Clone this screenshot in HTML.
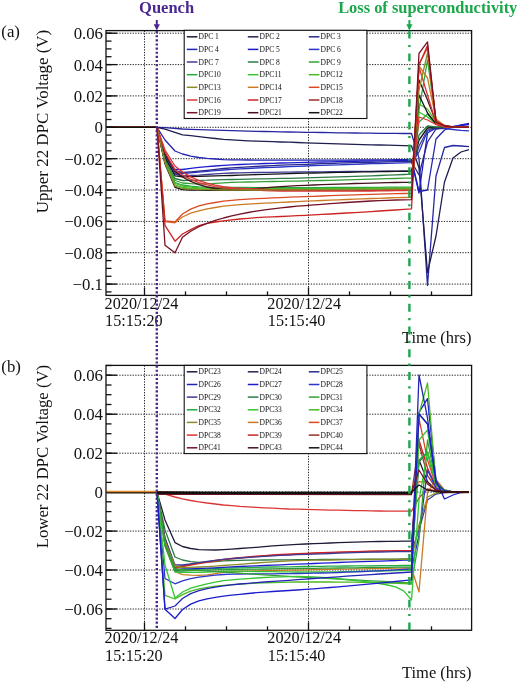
<!DOCTYPE html>
<html lang="en"><head><meta charset="utf-8"><title>DPC voltages during quench</title>
<style>html,body{margin:0;padding:0;background:#fff}body{width:520px;height:683px;overflow:hidden}svg{display:block}text{font-family:"Liberation Serif", "DejaVu Serif", serif;fill:#111}.t16{font-size:16.5px}.ty{font-size:16.8px}.tx{font-size:16.2px}.t7{font-size:7.55px}.grid{stroke:#222;stroke-width:1;stroke-dasharray:1.3 1.36;fill:none}.tk{stroke:#111;stroke-width:1.3}</style></head><body>
<svg width="520" height="683" viewBox="0 0 520 683">
<defs><clipPath id="c1"><rect x="106.0" y="30.6" width="365.6" height="264.8"/></clipPath><clipPath id="c2"><rect x="106.0" y="365.4" width="365.6" height="264.9"/></clipPath></defs>
<rect width="520" height="683" fill="#fff"/>
<line x1="106.0" y1="33.2" x2="471.6" y2="33.2" class="grid"/>
<line x1="106.0" y1="64.6" x2="471.6" y2="64.6" class="grid"/>
<line x1="106.0" y1="95.9" x2="471.6" y2="95.9" class="grid"/>
<line x1="106.0" y1="127.3" x2="471.6" y2="127.3" class="grid"/>
<line x1="106.0" y1="158.7" x2="471.6" y2="158.7" class="grid"/>
<line x1="106.0" y1="190.0" x2="471.6" y2="190.0" class="grid"/>
<line x1="106.0" y1="221.4" x2="471.6" y2="221.4" class="grid"/>
<line x1="106.0" y1="252.7" x2="471.6" y2="252.7" class="grid"/>
<line x1="106.0" y1="284.1" x2="471.6" y2="284.1" class="grid"/>
<line x1="144.5" y1="30.6" x2="144.5" y2="295.4" class="grid"/>
<line x1="308.5" y1="30.6" x2="308.5" y2="295.4" class="grid"/>
<g clip-path="url(#c1)">
<path d="M106.0 127.3 L157.0 127.3 L165.0 127.6 L182.5 129.0 L190.7 129.3 L198.9 129.6 L207.1 129.9 L215.3 130.1 L223.5 130.4 L231.7 130.6 L239.9 130.9 L248.1 131.1 L256.3 131.3 L264.5 131.5 L272.7 131.7 L280.9 131.9 L289.1 132.0 L297.3 132.2 L305.5 132.3 L313.7 132.4 L321.9 132.5 L330.1 132.7 L338.3 132.8 L346.5 132.9 L354.7 133.0 L362.9 133.1 L371.1 133.2 L379.3 133.3 L387.5 133.3 L395.7 133.4 L403.9 133.5 L411.5 133.5 L419.0 158.0 L427.5 285.5 L436.0 176.0 L444.5 147.5 L453.0 145.5 L461.0 146.0 L469.0 146.7" fill="none" stroke="#2626a0" stroke-width="1.30" stroke-linejoin="round" />
<path d="M106.0 127.3 L157.0 127.3 L165.0 129.2 L182.5 134.9 L190.7 135.7 L198.9 136.7 L207.1 137.6 L215.3 138.5 L223.5 139.3 L231.7 139.9 L239.9 140.4 L248.1 140.8 L256.3 141.1 L264.5 141.4 L272.7 141.7 L280.9 142.0 L289.1 142.2 L297.3 142.5 L305.5 142.8 L313.7 143.1 L321.9 143.3 L330.1 143.6 L338.3 143.8 L346.5 144.1 L354.7 144.3 L362.9 144.6 L371.1 144.8 L379.3 145.0 L387.5 145.2 L395.7 145.4 L403.9 145.6 L411.5 145.8 L419.0 168.0 L427.5 272.5 L436.0 236.0 L444.5 182.0 L453.0 158.0 L461.0 152.0 L469.0 149.7" fill="none" stroke="#1e1e50" stroke-width="1.30" stroke-linejoin="round" />
<path d="M106.0 127.3 L157.0 127.3 L165.0 140.0 L175.0 151.0 L182.5 154.0 L190.7 156.1 L198.9 157.5 L207.1 158.4 L215.3 159.0 L223.5 159.6 L231.7 159.8 L239.9 159.9 L248.1 160.0 L256.3 160.1 L264.5 160.1 L272.7 160.1 L280.9 160.2 L289.1 160.2 L297.3 160.2 L305.5 160.2 L313.7 160.2 L321.9 160.2 L330.1 160.2 L338.3 160.1 L346.5 160.1 L354.7 160.0 L362.9 160.0 L371.1 159.9 L379.3 159.9 L387.5 159.8 L395.7 159.7 L403.9 159.6 L411.5 159.5 L419.0 191.5 L427.5 190.0 L436.0 139.0 L444.5 130.0 L453.0 127.0 L461.0 125.0 L469.0 123.5" fill="none" stroke="#2424b4" stroke-width="1.30" stroke-linejoin="round" />
<path d="M106.0 127.3 L157.0 127.3 L165.0 154.0 L175.0 169.5 L182.5 169.5 L190.7 168.4 L198.9 167.4 L207.1 166.6 L215.3 166.0 L223.5 165.4 L231.7 164.9 L239.9 164.5 L248.1 164.2 L256.3 163.8 L264.5 163.5 L272.7 163.3 L280.9 163.0 L289.1 162.8 L297.3 162.6 L305.5 162.4 L313.7 162.2 L321.9 162.0 L330.1 161.8 L338.3 161.6 L346.5 161.5 L354.7 161.3 L362.9 161.2 L371.1 161.0 L379.3 160.9 L387.5 160.8 L395.7 160.7 L403.9 160.7 L411.5 160.6 L419.0 193.0 L427.5 133.0 L436.0 128.0 L444.5 127.0 L453.0 126.5 L461.0 125.5 L469.0 124.5" fill="none" stroke="#1c1ccc" stroke-width="1.30" stroke-linejoin="round" />
<path d="M106.0 127.3 L157.0 127.3 L165.0 156.0 L175.0 173.0 L182.5 173.5 L190.7 172.8 L198.9 172.1 L207.1 171.4 L215.3 170.6 L223.5 170.0 L231.7 169.4 L239.9 168.9 L248.1 168.5 L256.3 168.0 L264.5 167.7 L272.7 167.3 L280.9 167.0 L289.1 166.6 L297.3 166.3 L305.5 166.0 L313.7 165.7 L321.9 165.4 L330.1 165.1 L338.3 164.8 L346.5 164.5 L354.7 164.3 L362.9 164.0 L371.1 163.7 L379.3 163.5 L387.5 163.3 L395.7 163.1 L403.9 162.9 L411.5 162.7 L419.0 152.0 L427.5 131.0 L436.0 128.5 L444.5 128.5 L453.0 129.5 L461.0 130.3 L469.0 130.8" fill="none" stroke="#2a36c8" stroke-width="1.30" stroke-linejoin="round" />
<path d="M106.0 127.3 L157.0 127.3 L165.0 155.0 L175.0 171.0 L182.5 172.5 L190.7 171.8 L198.9 171.1 L207.1 170.3 L215.3 169.4 L223.5 168.5 L231.7 167.9 L239.9 167.3 L248.1 166.8 L256.3 166.4 L264.5 166.0 L272.7 165.6 L280.9 165.2 L289.1 164.9 L297.3 164.6 L305.5 164.3 L313.7 164.0 L321.9 163.7 L330.1 163.5 L338.3 163.2 L346.5 162.9 L354.7 162.7 L362.9 162.5 L371.1 162.3 L379.3 162.1 L387.5 161.9 L395.7 161.7 L403.9 161.6 L411.5 161.5 L419.0 175.0 L427.5 142.0 L436.0 129.0 L444.5 127.5 L453.0 127.0 L461.0 127.0 L469.0 127.0" fill="none" stroke="#2a2a8c" stroke-width="1.30" stroke-linejoin="round" />
<path d="M106.0 127.3 L157.0 127.3 L165.0 157.0 L175.0 174.0 L182.5 176.0 L190.7 175.5 L198.9 175.1 L207.1 174.5 L215.3 173.8 L223.5 173.3 L231.7 173.0 L239.9 172.8 L248.1 172.6 L256.3 172.5 L264.5 172.4 L272.7 172.3 L280.9 172.2 L289.1 172.1 L297.3 172.0 L305.5 171.9 L313.7 171.8 L321.9 171.8 L330.1 171.7 L338.3 171.6 L346.5 171.5 L354.7 171.4 L362.9 171.4 L371.1 171.3 L379.3 171.2 L387.5 171.2 L395.7 171.1 L403.9 171.0 L411.5 171.0 L419.0 146.0 L427.5 130.0 L436.0 127.5 L444.5 127.2 L453.0 127.2 L461.0 127.2 L469.0 127.2" fill="none" stroke="#3c3c96" stroke-width="1.30" stroke-linejoin="round" />
<path d="M106.0 127.3 L157.0 127.3 L165.0 158.0 L175.0 175.8 L182.5 176.8 L190.7 176.6 L198.9 176.3 L207.1 176.1 L215.3 175.9 L223.5 175.7 L231.7 175.5 L239.9 175.2 L248.1 174.9 L256.3 174.7 L264.5 174.4 L272.7 174.1 L280.9 173.8 L289.1 173.6 L297.3 173.4 L305.5 173.2 L313.7 173.0 L321.9 172.8 L330.1 172.6 L338.3 172.4 L346.5 172.3 L354.7 172.1 L362.9 171.9 L371.1 171.8 L379.3 171.6 L387.5 171.5 L395.7 171.4 L403.9 171.3 L411.5 171.2 L419.0 140.0 L427.5 128.0 L436.0 127.5 L444.5 127.2 L453.0 127.2 L461.0 127.2 L469.0 127.2" fill="none" stroke="#141414" stroke-width="1.30" stroke-linejoin="round" />
<path d="M106.0 127.3 L157.0 127.3 L165.0 160.0 L175.0 178.5 L182.5 180.5 L190.7 180.4 L198.9 180.3 L207.1 180.2 L215.3 179.9 L223.5 179.7 L231.7 179.5 L239.9 179.3 L248.1 179.1 L256.3 178.9 L264.5 178.8 L272.7 178.6 L280.9 178.4 L289.1 178.3 L297.3 178.1 L305.5 177.9 L313.7 177.6 L321.9 177.4 L330.1 177.2 L338.3 176.9 L346.5 176.6 L354.7 176.4 L362.9 176.1 L371.1 175.8 L379.3 175.5 L387.5 175.2 L395.7 174.8 L403.9 174.5 L411.5 174.2 L419.0 135.0 L427.5 126.0 L436.0 127.0 L444.5 127.2 L453.0 127.2 L461.0 127.2 L469.0 127.2" fill="none" stroke="#2c7a46" stroke-width="1.30" stroke-linejoin="round" />
<path d="M106.0 127.3 L157.0 127.3 L165.0 161.0 L175.0 180.5 L182.5 183.0 L190.7 183.7 L198.9 184.0 L207.1 183.8 L215.3 183.3 L223.5 182.8 L231.7 182.4 L239.9 182.2 L248.1 182.0 L256.3 181.8 L264.5 181.7 L272.7 181.5 L280.9 181.4 L289.1 181.2 L297.3 181.1 L305.5 180.9 L313.7 180.7 L321.9 180.5 L330.1 180.3 L338.3 180.1 L346.5 179.8 L354.7 179.6 L362.9 179.4 L371.1 179.2 L379.3 178.9 L387.5 178.7 L395.7 178.5 L403.9 178.2 L411.5 178.0 L419.0 122.0 L427.5 114.0 L436.0 124.0 L444.5 127.0 L453.0 127.2 L461.0 127.2 L469.0 127.2" fill="none" stroke="#34a034" stroke-width="1.30" stroke-linejoin="round" />
<path d="M106.0 127.3 L157.0 127.3 L165.0 162.0 L175.0 182.7 L182.5 185.0 L190.7 186.2 L198.9 187.0 L207.1 187.2 L215.3 187.4 L223.5 187.5 L231.7 187.5 L239.9 187.5 L248.1 187.5 L256.3 187.6 L264.5 187.6 L272.7 187.6 L280.9 187.6 L289.1 187.6 L297.3 187.6 L305.5 187.6 L313.7 187.6 L321.9 187.6 L330.1 187.5 L338.3 187.5 L346.5 187.5 L354.7 187.4 L362.9 187.4 L371.1 187.3 L379.3 187.3 L387.5 187.2 L395.7 187.1 L403.9 187.1 L411.5 187.0 L419.0 110.0 L427.5 60.0 L436.0 121.0 L444.5 126.5 L453.0 127.2 L461.0 127.2 L469.0 127.2" fill="none" stroke="#22aa44" stroke-width="1.30" stroke-linejoin="round" />
<path d="M106.0 127.3 L157.0 127.3 L165.0 163.0 L175.0 185.0 L182.5 187.4 L190.7 188.3 L198.9 189.0 L207.1 189.2 L215.3 189.4 L223.5 189.6 L231.7 189.6 L239.9 189.6 L248.1 189.6 L256.3 189.6 L264.5 189.5 L272.7 189.5 L280.9 189.5 L289.1 189.4 L297.3 189.4 L305.5 189.4 L313.7 189.3 L321.9 189.3 L330.1 189.2 L338.3 189.2 L346.5 189.1 L354.7 189.1 L362.9 189.0 L371.1 188.9 L379.3 188.8 L387.5 188.8 L395.7 188.7 L403.9 188.6 L411.5 188.5 L419.0 112.0 L427.5 117.0 L436.0 124.0 L444.5 126.5 L453.0 127.2 L461.0 127.2 L469.0 127.2" fill="none" stroke="#34c634" stroke-width="1.30" stroke-linejoin="round" />
<path d="M106.0 127.3 L157.0 127.3 L165.0 162.0 L175.0 183.5 L182.5 186.0 L190.7 187.2 L198.9 188.0 L207.1 188.2 L215.3 188.4 L223.5 188.6 L231.7 188.6 L239.9 188.6 L248.1 188.6 L256.3 188.6 L264.5 188.6 L272.7 188.6 L280.9 188.6 L289.1 188.6 L297.3 188.6 L305.5 188.6 L313.7 188.6 L321.9 188.6 L330.1 188.5 L338.3 188.5 L346.5 188.4 L354.7 188.4 L362.9 188.3 L371.1 188.2 L379.3 188.2 L387.5 188.1 L395.7 188.0 L403.9 187.9 L411.5 187.8 L419.0 104.0 L427.5 109.0 L436.0 122.0 L444.5 126.5 L453.0 127.2 L461.0 127.2 L469.0 127.2" fill="none" stroke="#4cb824" stroke-width="1.30" stroke-linejoin="round" />
<path d="M106.0 127.3 L157.0 127.3 L165.0 164.0 L175.0 187.3 L182.5 189.7 L190.7 190.0 L198.9 190.2 L207.1 190.3 L215.3 190.3 L223.5 190.4 L231.7 190.4 L239.9 190.4 L248.1 190.4 L256.3 190.4 L264.5 190.3 L272.7 190.3 L280.9 190.3 L289.1 190.2 L297.3 190.2 L305.5 190.2 L313.7 190.2 L321.9 190.1 L330.1 190.1 L338.3 190.1 L346.5 190.0 L354.7 190.0 L362.9 190.0 L371.1 190.0 L379.3 189.9 L387.5 189.9 L395.7 189.9 L403.9 189.8 L411.5 189.8 L419.0 95.0 L427.5 113.0 L436.0 124.0 L444.5 126.8 L453.0 127.2 L461.0 127.2 L469.0 127.2" fill="none" stroke="#141414" stroke-width="1.30" stroke-linejoin="round" />
<path d="M106.0 127.3 L157.0 127.3 L165.0 154.0 L175.0 171.5 L182.5 177.0 L190.7 181.3 L198.9 184.7 L207.1 187.0 L215.3 188.5 L223.5 189.3 L231.7 189.5 L239.9 189.3 L248.1 189.0 L256.3 188.5 L264.5 187.9 L272.7 187.2 L280.9 186.6 L289.1 186.1 L297.3 185.6 L305.5 185.3 L313.7 185.0 L321.9 184.7 L330.1 184.4 L338.3 184.1 L346.5 183.8 L354.7 183.5 L362.9 183.3 L371.1 183.1 L379.3 182.9 L387.5 182.7 L395.7 182.5 L403.9 182.4 L411.5 182.3 L419.0 80.0 L427.5 100.0 L436.0 122.0 L444.5 126.5 L453.0 127.2 L461.0 127.2 L469.0 127.2" fill="none" stroke="#44121e" stroke-width="1.30" stroke-linejoin="round" />
<path d="M106.0 127.3 L157.0 127.3 L165.0 152.0 L175.0 170.0 L182.5 175.0 L190.7 179.3 L198.9 182.7 L207.1 184.9 L215.3 186.6 L223.5 187.9 L231.7 188.7 L239.9 189.2 L248.1 189.7 L256.3 190.1 L264.5 190.5 L272.7 190.8 L280.9 191.0 L289.1 191.1 L297.3 191.2 L305.5 191.2 L313.7 191.2 L321.9 191.2 L330.1 191.2 L338.3 191.2 L346.5 191.1 L354.7 191.1 L362.9 191.1 L371.1 191.0 L379.3 190.9 L387.5 190.8 L395.7 190.7 L403.9 190.6 L411.5 190.4 L419.0 67.0 L427.5 95.0 L436.0 123.0 L444.5 126.8 L453.0 127.2 L461.0 127.2 L469.0 127.2" fill="none" stroke="#dc3434" stroke-width="1.30" stroke-linejoin="round" />
<path d="M106.0 127.3 L157.0 127.3 L165.0 150.0 L175.0 166.0 L182.5 172.0 L190.7 176.9 L198.9 180.6 L207.1 183.2 L215.3 185.1 L223.5 186.7 L231.7 187.6 L239.9 188.1 L248.1 188.6 L256.3 189.0 L264.5 189.3 L272.7 189.6 L280.9 189.8 L289.1 189.9 L297.3 190.0 L305.5 190.0 L313.7 190.0 L321.9 190.0 L330.1 190.0 L338.3 190.0 L346.5 190.0 L354.7 190.0 L362.9 189.9 L371.1 189.9 L379.3 189.9 L387.5 189.8 L395.7 189.7 L403.9 189.7 L411.5 189.6 L419.0 117.0 L427.5 120.0 L436.0 124.5 L444.5 126.8 L453.0 127.2 L461.0 127.2 L469.0 127.2" fill="none" stroke="#dc3434" stroke-width="1.30" stroke-linejoin="round" />
<path d="M106.0 127.3 L157.0 127.3 L165.0 163.0 L175.0 186.0 L182.5 188.5 L190.7 189.1 L198.9 189.5 L207.1 189.7 L215.3 189.9 L223.5 190.0 L231.7 190.0 L239.9 190.0 L248.1 190.0 L256.3 190.0 L264.5 189.9 L272.7 189.9 L280.9 189.9 L289.1 189.8 L297.3 189.8 L305.5 189.8 L313.7 189.7 L321.9 189.7 L330.1 189.7 L338.3 189.6 L346.5 189.5 L354.7 189.5 L362.9 189.4 L371.1 189.4 L379.3 189.3 L387.5 189.2 L395.7 189.2 L403.9 189.1 L411.5 189.0 L419.0 90.0 L427.5 53.0 L436.0 121.0 L444.5 126.0 L453.0 127.0 L461.0 127.2 L469.0 127.2" fill="none" stroke="#8a8a28" stroke-width="1.30" stroke-linejoin="round" />
<path d="M106.0 127.3 L157.0 127.3 L165.0 221.5 L175.0 222.8 L182.5 217.0 L190.7 213.1 L198.9 210.8 L207.1 208.9 L215.3 207.5 L223.5 206.2 L231.7 205.4 L239.9 204.7 L248.1 204.1 L256.3 203.6 L264.5 203.2 L272.7 202.8 L280.9 202.4 L289.1 202.0 L297.3 201.6 L305.5 201.2 L313.7 200.9 L321.9 200.5 L330.1 200.2 L338.3 199.8 L346.5 199.5 L354.7 199.2 L362.9 198.8 L371.1 198.5 L379.3 198.3 L387.5 198.0 L395.7 197.7 L403.9 197.5 L411.5 197.3 L419.0 66.0 L427.5 78.0 L436.0 119.0 L444.5 125.5 L453.0 127.0 L461.0 127.2 L469.0 127.2" fill="none" stroke="#cc7a22" stroke-width="1.30" stroke-linejoin="round" />
<path d="M106.0 127.3 L157.0 127.3 L165.0 221.0 L175.0 222.0 L182.5 214.0 L190.7 209.1 L198.9 205.8 L207.1 203.9 L215.3 202.5 L223.5 201.2 L231.7 200.4 L239.9 199.7 L248.1 199.2 L256.3 198.7 L264.5 198.3 L272.7 197.9 L280.9 197.6 L289.1 197.2 L297.3 196.9 L305.5 196.6 L313.7 196.3 L321.9 196.0 L330.1 195.7 L338.3 195.4 L346.5 195.1 L354.7 194.8 L362.9 194.6 L371.1 194.3 L379.3 194.1 L387.5 193.9 L395.7 193.7 L403.9 193.5 L411.5 193.4 L419.0 64.0 L427.5 48.0 L436.0 122.5 L444.5 126.0 L453.0 127.0 L461.0 127.2 L469.0 127.2" fill="none" stroke="#dc4a22" stroke-width="1.30" stroke-linejoin="round" />
<path d="M106.0 127.3 L157.0 127.3 L165.0 225.4 L175.0 241.2 L182.5 234.0 L190.7 229.7 L198.9 225.6 L207.1 223.4 L215.3 222.0 L223.5 220.8 L231.7 219.8 L239.9 219.0 L248.1 218.3 L256.3 217.7 L264.5 217.2 L272.7 216.8 L280.9 216.5 L289.1 216.1 L297.3 215.7 L305.5 215.3 L313.7 214.9 L321.9 214.4 L330.1 214.0 L338.3 213.5 L346.5 213.0 L354.7 212.6 L362.9 212.1 L371.1 211.6 L379.3 211.0 L387.5 210.5 L395.7 210.0 L403.9 209.4 L411.5 208.9 L419.0 65.0 L427.5 45.5 L436.0 121.0 L444.5 125.5 L453.0 127.0 L461.0 127.2 L469.0 127.2" fill="none" stroke="#cc2424" stroke-width="1.30" stroke-linejoin="round" />
<path d="M106.0 127.3 L157.0 127.3 L165.0 245.2 L175.0 252.8 L182.5 237.3 L190.7 231.2 L198.9 226.7 L207.1 223.3 L215.3 220.4 L223.5 218.0 L231.7 215.9 L239.9 214.1 L248.1 212.5 L256.3 211.1 L264.5 209.9 L272.7 208.8 L280.9 207.8 L289.1 207.0 L297.3 206.2 L305.5 205.6 L313.7 204.9 L321.9 204.3 L330.1 203.7 L338.3 203.1 L346.5 202.5 L354.7 202.0 L362.9 201.5 L371.1 201.0 L379.3 200.6 L387.5 200.3 L395.7 200.0 L403.9 199.8 L411.5 199.6 L419.0 53.3 L427.5 41.9 L436.0 122.0 L444.5 126.0 L453.0 127.0 L461.0 127.2 L469.0 127.2" fill="none" stroke="#741226" stroke-width="1.30" stroke-linejoin="round" />
</g>
<line x1="106" y1="127.3" x2="157" y2="127.3" stroke="#111" stroke-width="1.5"/>
<rect x="106.0" y="30.6" width="365.6" height="264.8" fill="none" stroke="#111" stroke-width="1.3"/>
<line x1="106.0" y1="33.2" x2="117.0" y2="33.2" class="tk"/>
<line x1="106.0" y1="64.6" x2="117.0" y2="64.6" class="tk"/>
<line x1="106.0" y1="95.9" x2="117.0" y2="95.9" class="tk"/>
<line x1="106.0" y1="127.3" x2="117.0" y2="127.3" class="tk"/>
<line x1="106.0" y1="158.7" x2="117.0" y2="158.7" class="tk"/>
<line x1="106.0" y1="190.0" x2="117.0" y2="190.0" class="tk"/>
<line x1="106.0" y1="221.4" x2="117.0" y2="221.4" class="tk"/>
<line x1="106.0" y1="252.7" x2="117.0" y2="252.7" class="tk"/>
<line x1="106.0" y1="284.1" x2="117.0" y2="284.1" class="tk"/>
<line x1="106.0" y1="291.9" x2="111.5" y2="291.9" class="tk"/>
<line x1="106.0" y1="284.1" x2="111.5" y2="284.1" class="tk"/>
<line x1="106.0" y1="276.3" x2="111.5" y2="276.3" class="tk"/>
<line x1="106.0" y1="268.4" x2="111.5" y2="268.4" class="tk"/>
<line x1="106.0" y1="260.6" x2="111.5" y2="260.6" class="tk"/>
<line x1="106.0" y1="252.7" x2="111.5" y2="252.7" class="tk"/>
<line x1="106.0" y1="244.9" x2="111.5" y2="244.9" class="tk"/>
<line x1="106.0" y1="237.1" x2="111.5" y2="237.1" class="tk"/>
<line x1="106.0" y1="229.2" x2="111.5" y2="229.2" class="tk"/>
<line x1="106.0" y1="221.4" x2="111.5" y2="221.4" class="tk"/>
<line x1="106.0" y1="213.5" x2="111.5" y2="213.5" class="tk"/>
<line x1="106.0" y1="205.7" x2="111.5" y2="205.7" class="tk"/>
<line x1="106.0" y1="197.9" x2="111.5" y2="197.9" class="tk"/>
<line x1="106.0" y1="190.0" x2="111.5" y2="190.0" class="tk"/>
<line x1="106.0" y1="182.2" x2="111.5" y2="182.2" class="tk"/>
<line x1="106.0" y1="174.3" x2="111.5" y2="174.3" class="tk"/>
<line x1="106.0" y1="166.5" x2="111.5" y2="166.5" class="tk"/>
<line x1="106.0" y1="158.7" x2="111.5" y2="158.7" class="tk"/>
<line x1="106.0" y1="150.8" x2="111.5" y2="150.8" class="tk"/>
<line x1="106.0" y1="143.0" x2="111.5" y2="143.0" class="tk"/>
<line x1="106.0" y1="135.1" x2="111.5" y2="135.1" class="tk"/>
<line x1="106.0" y1="127.3" x2="111.5" y2="127.3" class="tk"/>
<line x1="106.0" y1="119.5" x2="111.5" y2="119.5" class="tk"/>
<line x1="106.0" y1="111.6" x2="111.5" y2="111.6" class="tk"/>
<line x1="106.0" y1="103.8" x2="111.5" y2="103.8" class="tk"/>
<line x1="106.0" y1="95.9" x2="111.5" y2="95.9" class="tk"/>
<line x1="106.0" y1="88.1" x2="111.5" y2="88.1" class="tk"/>
<line x1="106.0" y1="80.3" x2="111.5" y2="80.3" class="tk"/>
<line x1="106.0" y1="72.4" x2="111.5" y2="72.4" class="tk"/>
<line x1="106.0" y1="64.6" x2="111.5" y2="64.6" class="tk"/>
<line x1="106.0" y1="56.7" x2="111.5" y2="56.7" class="tk"/>
<line x1="106.0" y1="48.9" x2="111.5" y2="48.9" class="tk"/>
<line x1="106.0" y1="41.1" x2="111.5" y2="41.1" class="tk"/>
<line x1="106.0" y1="33.2" x2="111.5" y2="33.2" class="tk"/>
<line x1="144.5" y1="295.4" x2="144.5" y2="287.4" class="tk"/>
<line x1="308.5" y1="295.4" x2="308.5" y2="287.4" class="tk"/>
<line x1="185.5" y1="295.4" x2="185.5" y2="291.4" class="tk"/>
<line x1="226.5" y1="295.4" x2="226.5" y2="291.4" class="tk"/>
<line x1="267.5" y1="295.4" x2="267.5" y2="291.4" class="tk"/>
<line x1="349.5" y1="295.4" x2="349.5" y2="291.4" class="tk"/>
<line x1="390.5" y1="295.4" x2="390.5" y2="291.4" class="tk"/>
<line x1="431.5" y1="295.4" x2="431.5" y2="291.4" class="tk"/>
<text x="103" y="39.1" text-anchor="end" class="ty">0.06</text>
<text x="103" y="70.5" text-anchor="end" class="ty">0.04</text>
<text x="103" y="101.8" text-anchor="end" class="ty">0.02</text>
<text x="103" y="133.2" text-anchor="end" class="ty">0</text>
<text x="103" y="164.6" text-anchor="end" class="ty">−0.02</text>
<text x="103" y="195.9" text-anchor="end" class="ty">−0.04</text>
<text x="103" y="227.3" text-anchor="end" class="ty">−0.06</text>
<text x="103" y="258.6" text-anchor="end" class="ty">−0.08</text>
<text x="103" y="290.0" text-anchor="end" class="ty">−0.1</text>
<rect x="184.2" y="30.3" width="182.7" height="88.2" fill="#fff" stroke="#111" stroke-width="1.1"/>
<line x1="186.8" y1="36.8" x2="197.4" y2="36.8" stroke="#1c1c38" stroke-width="1.5"/>
<text x="198.5" y="39.2" class="t7">DPC 1</text>
<line x1="247.8" y1="36.8" x2="258.4" y2="36.8" stroke="#26264f" stroke-width="1.5"/>
<text x="259.5" y="39.2" class="t7">DPC 2</text>
<line x1="308.8" y1="36.8" x2="319.4" y2="36.8" stroke="#2a2a8c" stroke-width="1.5"/>
<text x="320.5" y="39.2" class="t7">DPC 3</text>
<line x1="186.8" y1="49.4" x2="197.4" y2="49.4" stroke="#2424b4" stroke-width="1.5"/>
<text x="198.5" y="51.9" class="t7">DPC 4</text>
<line x1="247.8" y1="49.4" x2="258.4" y2="49.4" stroke="#1c1ccc" stroke-width="1.5"/>
<text x="259.5" y="51.9" class="t7">DPC 5</text>
<line x1="308.8" y1="49.4" x2="319.4" y2="49.4" stroke="#2a36c8" stroke-width="1.5"/>
<text x="320.5" y="51.9" class="t7">DPC 6</text>
<line x1="186.8" y1="62.0" x2="197.4" y2="62.0" stroke="#3c3c96" stroke-width="1.5"/>
<text x="198.5" y="64.5" class="t7">DPC 7</text>
<line x1="247.8" y1="62.0" x2="258.4" y2="62.0" stroke="#2c7a46" stroke-width="1.5"/>
<text x="259.5" y="64.5" class="t7">DPC 8</text>
<line x1="308.8" y1="62.0" x2="319.4" y2="62.0" stroke="#34a034" stroke-width="1.5"/>
<text x="320.5" y="64.5" class="t7">DPC 9</text>
<line x1="186.8" y1="74.7" x2="197.4" y2="74.7" stroke="#22aa44" stroke-width="1.5"/>
<text x="198.5" y="77.2" class="t7">DPC10</text>
<line x1="247.8" y1="74.7" x2="258.4" y2="74.7" stroke="#34c634" stroke-width="1.5"/>
<text x="259.5" y="77.2" class="t7">DPC11</text>
<line x1="308.8" y1="74.7" x2="319.4" y2="74.7" stroke="#4cb824" stroke-width="1.5"/>
<text x="320.5" y="77.2" class="t7">DPC12</text>
<line x1="186.8" y1="87.3" x2="197.4" y2="87.3" stroke="#8a8a28" stroke-width="1.5"/>
<text x="198.5" y="89.8" class="t7">DPC13</text>
<line x1="247.8" y1="87.3" x2="258.4" y2="87.3" stroke="#cc7a22" stroke-width="1.5"/>
<text x="259.5" y="89.8" class="t7">DPC14</text>
<line x1="308.8" y1="87.3" x2="319.4" y2="87.3" stroke="#dc4a22" stroke-width="1.5"/>
<text x="320.5" y="89.8" class="t7">DPC15</text>
<line x1="186.8" y1="100.0" x2="197.4" y2="100.0" stroke="#dc3434" stroke-width="1.5"/>
<text x="198.5" y="102.5" class="t7">DPC16</text>
<line x1="247.8" y1="100.0" x2="258.4" y2="100.0" stroke="#cc2424" stroke-width="1.5"/>
<text x="259.5" y="102.5" class="t7">DPC17</text>
<line x1="308.8" y1="100.0" x2="319.4" y2="100.0" stroke="#963026" stroke-width="1.5"/>
<text x="320.5" y="102.5" class="t7">DPC18</text>
<line x1="186.8" y1="112.7" x2="197.4" y2="112.7" stroke="#741226" stroke-width="1.5"/>
<text x="198.5" y="115.1" class="t7">DPC19</text>
<line x1="247.8" y1="112.7" x2="258.4" y2="112.7" stroke="#44121e" stroke-width="1.5"/>
<text x="259.5" y="115.1" class="t7">DPC21</text>
<line x1="308.8" y1="112.7" x2="319.4" y2="112.7" stroke="#141414" stroke-width="1.5"/>
<text x="320.5" y="115.1" class="t7">DPC22</text>
<line x1="106.0" y1="375.2" x2="471.6" y2="375.2" class="grid"/>
<line x1="106.0" y1="414.2" x2="471.6" y2="414.2" class="grid"/>
<line x1="106.0" y1="453.2" x2="471.6" y2="453.2" class="grid"/>
<line x1="106.0" y1="492.1" x2="471.6" y2="492.1" class="grid"/>
<line x1="106.0" y1="531.1" x2="471.6" y2="531.1" class="grid"/>
<line x1="106.0" y1="570.0" x2="471.6" y2="570.0" class="grid"/>
<line x1="106.0" y1="609.0" x2="471.6" y2="609.0" class="grid"/>
<line x1="144.5" y1="365.4" x2="144.5" y2="630.3" class="grid"/>
<line x1="308.5" y1="365.4" x2="308.5" y2="630.3" class="grid"/>
<g clip-path="url(#c2)">
<path d="M106.0 492.1 L157.0 492.1 L230.0 493.2 L411.5 493.6 L419.0 481.6 L427.5 482.0 L436.0 490.0 L444.5 491.5 L453.0 492.0 L461.0 492.0 L469.0 492.0" fill="none" stroke="#cc7a22" stroke-width="1.30" stroke-linejoin="round" />
<path d="M106.0 492.1 L157.0 492.1 L230.0 493.4 L411.5 493.8 L419.0 444.0 L427.5 475.7 L436.0 488.0 L444.5 491.5 L453.0 492.0 L461.0 492.0 L469.0 492.0" fill="none" stroke="#963026" stroke-width="1.30" stroke-linejoin="round" />
<path d="M106.0 492.1 L157.0 492.1 L165.0 494.2 L175.0 497.0 L182.5 498.8 L190.7 500.5 L198.9 501.8 L207.1 503.0 L215.3 504.0 L223.5 505.0 L231.7 505.7 L239.9 506.4 L248.1 506.9 L256.3 507.4 L264.5 507.8 L272.7 508.2 L280.9 508.6 L289.1 509.0 L297.3 509.2 L305.5 509.4 L313.7 509.7 L321.9 509.9 L330.1 510.1 L338.3 510.2 L346.5 510.4 L354.7 510.6 L362.9 510.7 L371.1 510.9 L379.3 511.0 L387.5 511.1 L395.7 511.1 L403.9 511.2 L411.5 511.2 L419.0 498.0 L427.5 489.0 L436.0 491.0 L444.5 492.0 L453.0 492.0 L461.0 492.0 L469.0 492.0" fill="none" stroke="#dc3434" stroke-width="1.30" stroke-linejoin="round" />
<path d="M106.0 492.1 L157.0 492.1 L165.0 520.0 L175.0 542.6 L182.5 546.5 L190.7 548.5 L198.9 549.7 L207.1 549.9 L215.3 550.0 L223.5 549.6 L231.7 549.1 L239.9 548.5 L248.1 547.9 L256.3 547.3 L264.5 546.6 L272.7 545.9 L280.9 545.3 L289.1 544.8 L297.3 544.3 L305.5 544.0 L313.7 543.6 L321.9 543.3 L330.1 543.0 L338.3 542.7 L346.5 542.4 L354.7 542.2 L362.9 541.9 L371.1 541.7 L379.3 541.5 L387.5 541.4 L395.7 541.3 L403.9 541.2 L411.5 541.2 L419.0 460.0 L427.5 481.6 L436.0 490.0 L444.5 491.6 L453.0 492.0 L461.0 492.0 L469.0 492.0" fill="none" stroke="#1c1c38" stroke-width="1.30" stroke-linejoin="round" />
<path d="M106.0 492.1 L157.0 492.1 L165.0 530.0 L175.0 557.0 L182.5 560.0 L190.7 561.6 L198.9 562.3 L207.1 562.1 L215.3 561.5 L223.5 560.8 L231.7 560.5 L239.9 560.3 L248.1 560.2 L256.3 560.1 L264.5 560.0 L272.7 559.9 L280.9 559.8 L289.1 559.8 L297.3 559.7 L305.5 559.7 L313.7 559.6 L321.9 559.5 L330.1 559.5 L338.3 559.4 L346.5 559.3 L354.7 559.3 L362.9 559.2 L371.1 559.2 L379.3 559.1 L387.5 559.1 L395.7 559.1 L403.9 559.0 L411.5 559.0 L419.0 462.0 L427.5 452.0 L436.0 485.0 L444.5 491.0 L453.0 492.0 L461.0 492.0 L469.0 492.0" fill="none" stroke="#2c7a46" stroke-width="1.30" stroke-linejoin="round" />
<path d="M106.0 492.1 L157.0 492.1 L165.0 540.0 L175.0 568.5 L182.5 566.5 L190.7 565.1 L198.9 563.7 L207.1 562.3 L215.3 561.0 L223.5 559.8 L231.7 558.8 L239.9 558.0 L248.1 557.3 L256.3 556.6 L264.5 556.0 L272.7 555.4 L280.9 554.9 L289.1 554.5 L297.3 554.1 L305.5 553.8 L313.7 553.4 L321.9 553.1 L330.1 552.8 L338.3 552.5 L346.5 552.2 L354.7 552.0 L362.9 551.7 L371.1 551.5 L379.3 551.3 L387.5 551.2 L395.7 551.1 L403.9 551.0 L411.5 551.0 L419.0 418.4 L427.5 460.0 L436.0 485.0 L444.5 491.0 L453.0 492.0 L461.0 492.0 L469.0 492.0" fill="none" stroke="#dc4a22" stroke-width="1.30" stroke-linejoin="round" />
<path d="M106.0 492.1 L157.0 492.1 L165.0 538.0 L175.0 567.5 L182.5 566.0 L190.7 564.5 L198.9 563.2 L207.1 561.8 L215.3 560.5 L223.5 559.4 L231.7 558.4 L239.9 557.6 L248.1 556.9 L256.3 556.2 L264.5 555.6 L272.7 555.0 L280.9 554.5 L289.1 554.1 L297.3 553.7 L305.5 553.4 L313.7 553.0 L321.9 552.7 L330.1 552.4 L338.3 552.1 L346.5 551.8 L354.7 551.6 L362.9 551.3 L371.1 551.1 L379.3 550.9 L387.5 550.8 L395.7 550.7 L403.9 550.6 L411.5 550.6 L419.0 440.0 L427.5 468.0 L436.0 486.0 L444.5 491.0 L453.0 492.0 L461.0 492.0 L469.0 492.0" fill="none" stroke="#cc2424" stroke-width="1.30" stroke-linejoin="round" />
<path d="M106.0 492.1 L157.0 492.1 L165.0 538.0 L175.0 565.0 L182.5 565.0 L190.7 563.8 L198.9 562.6 L207.1 561.5 L215.3 560.4 L223.5 559.4 L231.7 558.7 L239.9 558.0 L248.1 557.4 L256.3 556.8 L264.5 556.3 L272.7 555.9 L280.9 555.4 L289.1 555.1 L297.3 554.7 L305.5 554.4 L313.7 554.1 L321.9 553.8 L330.1 553.5 L338.3 553.2 L346.5 552.9 L354.7 552.6 L362.9 552.4 L371.1 552.2 L379.3 552.0 L387.5 551.8 L395.7 551.7 L403.9 551.6 L411.5 551.5 L419.0 530.0 L427.5 500.0 L436.0 494.0 L444.5 492.5 L453.0 492.0 L461.0 492.0 L469.0 492.0" fill="none" stroke="#3c3c96" stroke-width="1.30" stroke-linejoin="round" />
<path d="M106.0 492.1 L157.0 492.1 L165.0 544.0 L175.0 571.0 L182.5 569.5 L190.7 569.3 L198.9 569.0 L207.1 568.8 L215.3 568.5 L223.5 568.2 L231.7 568.0 L239.9 567.8 L248.1 567.6 L256.3 567.4 L264.5 567.2 L272.7 567.0 L280.9 566.9 L289.1 566.8 L297.3 566.6 L305.5 566.5 L313.7 566.4 L321.9 566.3 L330.1 566.2 L338.3 566.1 L346.5 566.0 L354.7 565.9 L362.9 565.8 L371.1 565.8 L379.3 565.7 L387.5 565.6 L395.7 565.6 L403.9 565.5 L411.5 565.5 L419.0 460.0 L427.5 452.0 L436.0 485.0 L444.5 491.0 L453.0 492.0 L461.0 492.0 L469.0 492.0" fill="none" stroke="#22aa44" stroke-width="1.30" stroke-linejoin="round" />
<path d="M106.0 492.1 L157.0 492.1 L165.0 543.0 L175.0 570.0 L182.5 569.0 L190.7 568.8 L198.9 568.5 L207.1 568.2 L215.3 567.8 L223.5 567.3 L231.7 566.9 L239.9 566.5 L248.1 566.2 L256.3 565.8 L264.5 565.5 L272.7 565.1 L280.9 564.8 L289.1 564.4 L297.3 564.1 L305.5 563.8 L313.7 563.5 L321.9 563.2 L330.1 562.8 L338.3 562.5 L346.5 562.2 L354.7 561.9 L362.9 561.6 L371.1 561.3 L379.3 561.1 L387.5 560.8 L395.7 560.5 L403.9 560.2 L411.5 560.0 L419.0 412.4 L427.5 398.6 L436.0 480.0 L444.5 490.5 L453.0 492.0 L461.0 492.0 L469.0 492.0" fill="none" stroke="#1c1ccc" stroke-width="1.30" stroke-linejoin="round" />
<path d="M106.0 492.1 L157.0 492.1 L165.0 541.0 L175.0 566.0 L182.5 567.5 L190.7 567.3 L198.9 567.0 L207.1 566.6 L215.3 566.1 L223.5 565.5 L231.7 564.9 L239.9 564.3 L248.1 563.7 L256.3 563.0 L264.5 562.4 L272.7 561.8 L280.9 561.3 L289.1 560.9 L297.3 560.6 L305.5 560.4 L313.7 560.2 L321.9 560.1 L330.1 560.0 L338.3 559.9 L346.5 559.7 L354.7 559.6 L362.9 559.6 L371.1 559.5 L379.3 559.4 L387.5 559.4 L395.7 559.3 L403.9 559.3 L411.5 559.3 L419.0 525.0 L427.5 497.0 L436.0 493.0 L444.5 492.0 L453.0 492.0 L461.0 492.0 L469.0 492.0" fill="none" stroke="#8a8a28" stroke-width="1.30" stroke-linejoin="round" />
<path d="M106.0 492.1 L157.0 492.1 L165.0 546.0 L175.0 571.5 L182.5 574.6 L190.7 575.2 L198.9 575.4 L207.1 574.9 L215.3 573.7 L223.5 572.4 L231.7 571.7 L239.9 571.4 L248.1 571.1 L256.3 570.9 L264.5 570.7 L272.7 570.5 L280.9 570.4 L289.1 570.2 L297.3 570.1 L305.5 569.9 L313.7 569.7 L321.9 569.5 L330.1 569.4 L338.3 569.2 L346.5 569.1 L354.7 568.9 L362.9 568.8 L371.1 568.6 L379.3 568.5 L387.5 568.3 L395.7 568.2 L403.9 568.1 L411.5 568.0 L419.0 592.0 L427.5 492.4 L436.0 480.0 L444.5 490.0 L453.0 492.0 L461.0 492.0 L469.0 492.0" fill="none" stroke="#cc7a22" stroke-width="1.30" stroke-linejoin="round" />
<path d="M106.0 492.1 L157.0 492.1 L165.0 546.0 L175.0 572.0 L182.5 572.3 L190.7 572.3 L198.9 572.3 L207.1 572.1 L215.3 571.7 L223.5 571.3 L231.7 571.2 L239.9 571.2 L248.1 571.3 L256.3 571.5 L264.5 571.6 L272.7 571.7 L280.9 571.9 L289.1 571.9 L297.3 572.0 L305.5 572.0 L313.7 572.0 L321.9 571.9 L330.1 571.9 L338.3 571.8 L346.5 571.7 L354.7 571.5 L362.9 571.4 L371.1 571.2 L379.3 571.0 L387.5 570.8 L395.7 570.5 L403.9 570.3 L411.5 570.0 L419.0 440.0 L427.5 430.0 L436.0 484.0 L444.5 491.0 L453.0 492.0 L461.0 492.0 L469.0 492.0" fill="none" stroke="#34c634" stroke-width="1.30" stroke-linejoin="round" />
<path d="M106.0 492.1 L157.0 492.1 L165.0 545.0 L175.0 571.0 L182.5 571.0 L190.7 570.7 L198.9 570.4 L207.1 570.2 L215.3 569.9 L223.5 569.7 L231.7 569.5 L239.9 569.3 L248.1 569.2 L256.3 569.1 L264.5 569.0 L272.7 568.8 L280.9 568.7 L289.1 568.6 L297.3 568.5 L305.5 568.4 L313.7 568.3 L321.9 568.2 L330.1 568.1 L338.3 568.0 L346.5 567.9 L354.7 567.8 L362.9 567.6 L371.1 567.5 L379.3 567.4 L387.5 567.3 L395.7 567.2 L403.9 567.1 L411.5 567.0 L419.0 414.0 L427.5 424.0 L436.0 482.0 L444.5 491.0 L453.0 492.0 L461.0 492.0 L469.0 492.0" fill="none" stroke="#2c9a3c" stroke-width="1.30" stroke-linejoin="round" />
<path d="M106.0 492.1 L157.0 492.1 L165.0 578.5 L175.0 583.8 L182.5 580.8 L190.7 578.7 L198.9 577.2 L207.1 576.1 L215.3 575.2 L223.5 574.5 L231.7 574.2 L239.9 574.0 L248.1 573.9 L256.3 573.9 L264.5 573.8 L272.7 573.8 L280.9 573.7 L289.1 573.6 L297.3 573.5 L305.5 573.4 L313.7 573.2 L321.9 573.0 L330.1 572.8 L338.3 572.5 L346.5 572.2 L354.7 571.9 L362.9 571.5 L371.1 571.2 L379.3 570.8 L387.5 570.3 L395.7 569.9 L403.9 569.4 L411.5 569.0 L419.0 535.0 L427.5 470.0 L436.0 488.0 L444.5 491.5 L453.0 492.0 L461.0 492.0 L469.0 492.0" fill="none" stroke="#2a36c8" stroke-width="1.30" stroke-linejoin="round" />
<path d="M106.0 492.1 L157.0 492.1 L165.0 545.0 L175.0 569.0 L182.5 569.6 L190.7 570.1 L198.9 570.5 L207.1 571.1 L215.3 571.6 L223.5 572.2 L231.7 572.7 L239.9 573.2 L248.1 573.8 L256.3 574.3 L264.5 574.8 L272.7 575.4 L280.9 575.9 L289.1 576.4 L297.3 576.8 L305.5 577.3 L313.7 577.8 L321.9 578.2 L330.1 578.6 L338.3 579.1 L346.5 579.5 L354.7 579.9 L362.9 580.4 L371.1 580.8 L379.3 581.2 L387.5 581.7 L395.7 582.1 L403.9 582.6 L411.5 583.0 L419.0 540.0 L427.5 440.0 L436.0 484.0 L444.5 491.0 L453.0 492.0 L461.0 492.0 L469.0 492.0" fill="none" stroke="#34a034" stroke-width="1.30" stroke-linejoin="round" />
<path d="M106.0 492.1 L157.0 492.1 L165.0 595.4 L175.0 599.0 L182.5 594.6 L190.7 591.1 L198.9 588.8 L207.1 587.4 L215.3 586.2 L223.5 585.3 L231.7 584.7 L239.9 584.2 L248.1 583.7 L256.3 583.2 L264.5 582.9 L272.7 582.5 L280.9 582.3 L289.1 582.1 L297.3 582.0 L305.5 582.0 L313.7 582.0 L321.9 582.0 L330.1 582.0 L338.3 582.1 L346.5 582.1 L354.7 582.2 L362.9 582.4 L371.1 582.5 L379.3 582.7 L387.5 583.0 L395.7 583.3 L403.9 583.6 L411.5 584.0 L419.0 414.0 L427.5 382.8 L436.0 483.6 L444.5 490.0 L453.0 492.0 L461.0 492.0 L469.0 492.0" fill="none" stroke="#4cb824" stroke-width="1.30" stroke-linejoin="round" />
<path d="M106.0 492.1 L157.0 492.1 L165.0 565.0 L175.0 598.0 L182.5 592.0 L190.7 588.1 L198.9 585.8 L207.1 583.9 L215.3 582.2 L223.5 580.7 L231.7 579.9 L239.9 579.2 L248.1 578.6 L256.3 578.0 L264.5 577.5 L272.7 577.1 L280.9 576.8 L289.1 576.6 L297.3 576.5 L305.5 576.6 L313.7 576.8 L321.9 577.3 L330.1 578.0 L338.3 578.7 L346.5 579.6 L354.7 580.4 L362.9 581.3 L371.1 582.3 L379.3 583.5 L387.5 585.0 L395.7 586.9 L403.9 591.1 L411.5 600.0 L419.0 500.0 L427.5 452.0 L436.0 485.0 L444.5 491.0 L453.0 492.0 L461.0 492.0 L469.0 492.0" fill="none" stroke="#34c634" stroke-width="1.30" stroke-linejoin="round" />
<path d="M106.0 492.1 L157.0 492.1 L165.0 609.2 L175.0 606.0 L182.5 598.5 L190.7 593.6 L198.9 590.6 L207.1 588.7 L215.3 587.1 L223.5 585.8 L231.7 584.8 L239.9 584.0 L248.1 583.3 L256.3 582.6 L264.5 582.0 L272.7 581.4 L280.9 580.8 L289.1 580.3 L297.3 579.7 L305.5 579.1 L313.7 578.5 L321.9 577.9 L330.1 577.3 L338.3 576.8 L346.5 576.2 L354.7 575.6 L362.9 575.1 L371.1 574.6 L379.3 574.0 L387.5 573.5 L395.7 573.0 L403.9 572.5 L411.5 572.0 L419.0 374.9 L427.5 418.0 L436.0 483.6 L444.5 490.5 L453.0 492.0 L461.0 492.0 L469.0 492.0" fill="none" stroke="#2424b4" stroke-width="1.30" stroke-linejoin="round" />
<path d="M106.0 492.1 L157.0 492.1 L165.0 609.2 L175.0 618.5 L182.5 609.5 L190.7 604.1 L198.9 600.9 L207.1 598.9 L215.3 597.4 L223.5 596.2 L231.7 595.2 L239.9 594.3 L248.1 593.5 L256.3 592.7 L264.5 592.1 L272.7 591.5 L280.9 591.0 L289.1 590.5 L297.3 590.0 L305.5 589.4 L313.7 588.8 L321.9 588.1 L330.1 587.5 L338.3 586.8 L346.5 586.1 L354.7 585.4 L362.9 584.6 L371.1 583.9 L379.3 583.1 L387.5 582.3 L395.7 581.5 L403.9 580.6 L411.5 579.8 L419.0 414.0 L427.5 424.0 L436.0 480.0 L444.5 499.0 L453.0 495.0 L461.0 492.5 L469.0 492.0" fill="none" stroke="#1c1ccc" stroke-width="1.30" stroke-linejoin="round" />
<path d="M106.0 492.1 L157.0 492.1 L230.0 492.8 L411.5 493.0 L419.0 470.0 L427.5 484.0 L436.0 490.0 L444.5 492.0 L453.0 492.0 L461.0 492.0 L469.0 492.0" fill="none" stroke="#741226" stroke-width="1.30" stroke-linejoin="round" />
<path d="M106.0 492.1 L157.0 492.1 L230.0 492.3 L411.5 492.3 L419.0 485.0 L427.5 490.0 L436.0 491.5 L444.5 492.0 L453.0 492.0 L461.0 492.0 L469.0 492.0" fill="none" stroke="#141414" stroke-width="1.30" stroke-linejoin="round" />
</g>
<line x1="157" y1="494.3" x2="412" y2="494.6" stroke="#7a1420" stroke-width="1.4"/>
<line x1="157" y1="493.0" x2="412" y2="493.2" stroke="#111" stroke-width="2.2"/>
<line x1="157" y1="491.9" x2="412" y2="492.1" stroke="#111" stroke-width="1" stroke-dasharray="1.6 1.6"/>
<line x1="440" y1="492.2" x2="469" y2="492.2" stroke="#3a1010" stroke-width="2"/>
<rect x="106.0" y="365.4" width="365.6" height="264.9" fill="none" stroke="#111" stroke-width="1.3"/>
<line x1="106.0" y1="375.2" x2="117.0" y2="375.2" class="tk"/>
<line x1="106.0" y1="414.2" x2="117.0" y2="414.2" class="tk"/>
<line x1="106.0" y1="453.2" x2="117.0" y2="453.2" class="tk"/>
<line x1="106.0" y1="492.1" x2="117.0" y2="492.1" class="tk"/>
<line x1="106.0" y1="531.1" x2="117.0" y2="531.1" class="tk"/>
<line x1="106.0" y1="570.0" x2="117.0" y2="570.0" class="tk"/>
<line x1="106.0" y1="609.0" x2="117.0" y2="609.0" class="tk"/>
<line x1="106.0" y1="628.4" x2="111.5" y2="628.4" class="tk"/>
<line x1="106.0" y1="618.7" x2="111.5" y2="618.7" class="tk"/>
<line x1="106.0" y1="609.0" x2="111.5" y2="609.0" class="tk"/>
<line x1="106.0" y1="599.2" x2="111.5" y2="599.2" class="tk"/>
<line x1="106.0" y1="589.5" x2="111.5" y2="589.5" class="tk"/>
<line x1="106.0" y1="579.7" x2="111.5" y2="579.7" class="tk"/>
<line x1="106.0" y1="570.0" x2="111.5" y2="570.0" class="tk"/>
<line x1="106.0" y1="560.3" x2="111.5" y2="560.3" class="tk"/>
<line x1="106.0" y1="550.5" x2="111.5" y2="550.5" class="tk"/>
<line x1="106.0" y1="540.8" x2="111.5" y2="540.8" class="tk"/>
<line x1="106.0" y1="531.1" x2="111.5" y2="531.1" class="tk"/>
<line x1="106.0" y1="521.3" x2="111.5" y2="521.3" class="tk"/>
<line x1="106.0" y1="511.6" x2="111.5" y2="511.6" class="tk"/>
<line x1="106.0" y1="501.8" x2="111.5" y2="501.8" class="tk"/>
<line x1="106.0" y1="492.1" x2="111.5" y2="492.1" class="tk"/>
<line x1="106.0" y1="482.4" x2="111.5" y2="482.4" class="tk"/>
<line x1="106.0" y1="472.6" x2="111.5" y2="472.6" class="tk"/>
<line x1="106.0" y1="462.9" x2="111.5" y2="462.9" class="tk"/>
<line x1="106.0" y1="453.2" x2="111.5" y2="453.2" class="tk"/>
<line x1="106.0" y1="443.4" x2="111.5" y2="443.4" class="tk"/>
<line x1="106.0" y1="433.7" x2="111.5" y2="433.7" class="tk"/>
<line x1="106.0" y1="423.9" x2="111.5" y2="423.9" class="tk"/>
<line x1="106.0" y1="414.2" x2="111.5" y2="414.2" class="tk"/>
<line x1="106.0" y1="404.5" x2="111.5" y2="404.5" class="tk"/>
<line x1="106.0" y1="394.7" x2="111.5" y2="394.7" class="tk"/>
<line x1="106.0" y1="385.0" x2="111.5" y2="385.0" class="tk"/>
<line x1="106.0" y1="375.2" x2="111.5" y2="375.2" class="tk"/>
<line x1="106.0" y1="365.5" x2="111.5" y2="365.5" class="tk"/>
<line x1="144.5" y1="630.3" x2="144.5" y2="622.3" class="tk"/>
<line x1="308.5" y1="630.3" x2="308.5" y2="622.3" class="tk"/>
<line x1="185.5" y1="630.3" x2="185.5" y2="626.3" class="tk"/>
<line x1="226.5" y1="630.3" x2="226.5" y2="626.3" class="tk"/>
<line x1="267.5" y1="630.3" x2="267.5" y2="626.3" class="tk"/>
<line x1="349.5" y1="630.3" x2="349.5" y2="626.3" class="tk"/>
<line x1="390.5" y1="630.3" x2="390.5" y2="626.3" class="tk"/>
<line x1="431.5" y1="630.3" x2="431.5" y2="626.3" class="tk"/>
<line x1="106.6" y1="492.7" x2="157" y2="492.7" stroke="#1a1010" stroke-width="1.5"/>
<line x1="106.6" y1="491.5" x2="157" y2="491.5" stroke="#e08a28" stroke-width="1.3"/>
<text x="103" y="381.1" text-anchor="end" class="ty">0.06</text>
<text x="103" y="420.1" text-anchor="end" class="ty">0.04</text>
<text x="103" y="459.1" text-anchor="end" class="ty">0.02</text>
<text x="103" y="498.0" text-anchor="end" class="ty">0</text>
<text x="103" y="537.0" text-anchor="end" class="ty">−0.02</text>
<text x="103" y="575.9" text-anchor="end" class="ty">−0.04</text>
<text x="103" y="614.9" text-anchor="end" class="ty">−0.06</text>
<rect x="184.2" y="365.4" width="182.7" height="88.2" fill="#fff" stroke="#111" stroke-width="1.1"/>
<line x1="186.8" y1="371.8" x2="197.4" y2="371.8" stroke="#1c1c38" stroke-width="1.5"/>
<text x="198.5" y="374.3" class="t7">DPC23</text>
<line x1="247.8" y1="371.8" x2="258.4" y2="371.8" stroke="#26264f" stroke-width="1.5"/>
<text x="259.5" y="374.3" class="t7">DPC24</text>
<line x1="308.8" y1="371.8" x2="319.4" y2="371.8" stroke="#2a2a8c" stroke-width="1.5"/>
<text x="320.5" y="374.3" class="t7">DPC25</text>
<line x1="186.8" y1="384.5" x2="197.4" y2="384.5" stroke="#2424b4" stroke-width="1.5"/>
<text x="198.5" y="386.9" class="t7">DPC26</text>
<line x1="247.8" y1="384.5" x2="258.4" y2="384.5" stroke="#1c1ccc" stroke-width="1.5"/>
<text x="259.5" y="386.9" class="t7">DPC27</text>
<line x1="308.8" y1="384.5" x2="319.4" y2="384.5" stroke="#2a36c8" stroke-width="1.5"/>
<text x="320.5" y="386.9" class="t7">DPC28</text>
<line x1="186.8" y1="397.1" x2="197.4" y2="397.1" stroke="#3c3c96" stroke-width="1.5"/>
<text x="198.5" y="399.6" class="t7">DPC29</text>
<line x1="247.8" y1="397.1" x2="258.4" y2="397.1" stroke="#2c7a46" stroke-width="1.5"/>
<text x="259.5" y="399.6" class="t7">DPC30</text>
<line x1="308.8" y1="397.1" x2="319.4" y2="397.1" stroke="#34a034" stroke-width="1.5"/>
<text x="320.5" y="399.6" class="t7">DPC31</text>
<line x1="186.8" y1="409.8" x2="197.4" y2="409.8" stroke="#22aa44" stroke-width="1.5"/>
<text x="198.5" y="412.2" class="t7">DPC32</text>
<line x1="247.8" y1="409.8" x2="258.4" y2="409.8" stroke="#34c634" stroke-width="1.5"/>
<text x="259.5" y="412.2" class="t7">DPC33</text>
<line x1="308.8" y1="409.8" x2="319.4" y2="409.8" stroke="#4cb824" stroke-width="1.5"/>
<text x="320.5" y="412.2" class="t7">DPC34</text>
<line x1="186.8" y1="422.4" x2="197.4" y2="422.4" stroke="#8a8a28" stroke-width="1.5"/>
<text x="198.5" y="424.9" class="t7">DPC35</text>
<line x1="247.8" y1="422.4" x2="258.4" y2="422.4" stroke="#cc7a22" stroke-width="1.5"/>
<text x="259.5" y="424.9" class="t7">DPC36</text>
<line x1="308.8" y1="422.4" x2="319.4" y2="422.4" stroke="#dc4a22" stroke-width="1.5"/>
<text x="320.5" y="424.9" class="t7">DPC37</text>
<line x1="186.8" y1="435.1" x2="197.4" y2="435.1" stroke="#dc3434" stroke-width="1.5"/>
<text x="198.5" y="437.5" class="t7">DPC38</text>
<line x1="247.8" y1="435.1" x2="258.4" y2="435.1" stroke="#cc2424" stroke-width="1.5"/>
<text x="259.5" y="437.5" class="t7">DPC39</text>
<line x1="308.8" y1="435.1" x2="319.4" y2="435.1" stroke="#963026" stroke-width="1.5"/>
<text x="320.5" y="437.5" class="t7">DPC40</text>
<line x1="186.8" y1="447.8" x2="197.4" y2="447.8" stroke="#741226" stroke-width="1.5"/>
<text x="198.5" y="450.2" class="t7">DPC41</text>
<line x1="247.8" y1="447.8" x2="258.4" y2="447.8" stroke="#44121e" stroke-width="1.5"/>
<text x="259.5" y="450.2" class="t7">DPC43</text>
<line x1="308.8" y1="447.8" x2="319.4" y2="447.8" stroke="#141414" stroke-width="1.5"/>
<text x="320.5" y="450.2" class="t7">DPC44</text>
<text x="1.3" y="37" class="ty">(a)</text>
<text x="1.3" y="371.5" class="ty">(b)</text>
<text transform="translate(47.6 213.3) rotate(-90)" class="t16" textLength="183.5" lengthAdjust="spacingAndGlyphs">Upper 22 DPC Voltage (V)</text>
<text transform="translate(47.6 548.3) rotate(-90)" class="t16" textLength="183.5" lengthAdjust="spacingAndGlyphs">Lower 22 DPC Voltage (V)</text>
<text x="104.6" y="308.7" class="tx">2020/12/24</text>
<text x="105.1" y="326.2" class="tx">15:15:20</text>
<text x="267.3" y="308.7" class="tx">2020/12/24</text>
<text x="267.8" y="326.2" class="tx">15:15:40</text>
<text x="104.6" y="643.3" class="tx">2020/12/24</text>
<text x="105.1" y="661.3" class="tx">15:15:20</text>
<text x="267.3" y="643.3" class="tx">2020/12/24</text>
<text x="267.8" y="661.3" class="tx">15:15:40</text>
<text x="471.5" y="342.9" text-anchor="end" class="t16">Time (hrs)</text>
<text x="471.5" y="677.6" text-anchor="end" class="t16">Time (hrs)</text>
<line x1="156.8" y1="31" x2="156.8" y2="628.8" stroke="#4b2890" stroke-width="2.4" stroke-dasharray="2.2 1.93"/>
<line x1="156.8" y1="20" x2="156.8" y2="26" stroke="#4b2890" stroke-width="2"/>
<path d="M153.7 24.2 L156.8 30.6 L159.9 24.2 Z" fill="#4b2890"/>
<line x1="409.4" y1="30.64" x2="409.4" y2="630.4" stroke="#1aa64a" stroke-width="2.4" stroke-dasharray="7.9 6.4 2.1 6.36" stroke-dashoffset="0"/>
<line x1="409.4" y1="20" x2="409.4" y2="26" stroke="#1aa64a" stroke-width="2"/>
<path d="M406.3 24.2 L409.4 30.6 L412.5 24.2 Z" fill="#1aa64a"/>
<text x="166.6" y="12.7" text-anchor="middle" style="font-size:16.5px;font-weight:bold;fill:#4b2890">Quench</text>
<text x="517.3" y="12.9" text-anchor="end" style="font-size:16.4px;font-weight:bold;fill:#1aa64a">Loss of superconductivity</text>
</svg></body></html>
